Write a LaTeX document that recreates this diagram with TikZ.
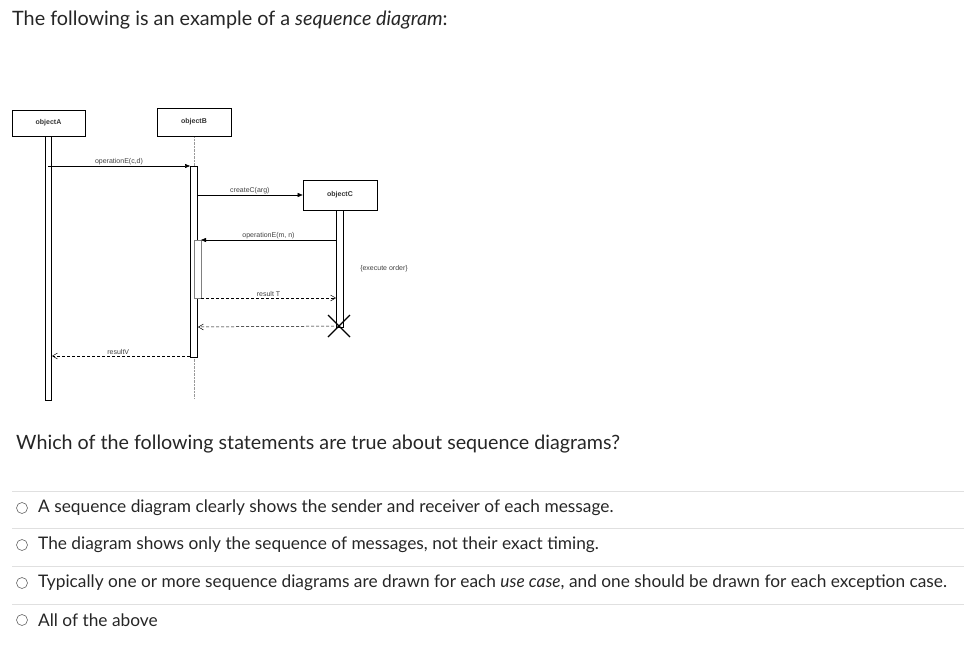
\documentclass[tikz,border=0pt]{standalone}
\usepackage{fontspec}
\setmainfont{Lato}
\newfontfamily\diag{Liberation Sans}
\usetikzlibrary{arrows.meta,calc}
\begin{document}
\begin{tikzpicture}[x=1pt,y=-1pt,
  obj/.style={draw,line width=0.6pt,fill=white,font=\diag\bfseries\fontsize{7}{8}\selectfont,text=black!80},
  act/.style={draw,line width=0.6pt,fill=white},
  lbl/.style={font=\diag\fontsize{7}{8}\selectfont,text=black!75,inner sep=1pt},
  msg/.style={line width=0.5pt,-{Triangle[length=5pt,width=4pt]}},
  ret/.style={line width=0.5pt,densely dashed,-{Straight Barb[length=5pt,width=6pt]}},
  body/.style={font=\fontsize{17.3}{20}\selectfont,text=black!85,anchor=west,inner sep=0pt},
  sep/.style={draw=black!12,line width=0.6pt}]
\useasboundingbox (0,0) rectangle (964,657);
\node[anchor=west,inner sep=0pt,font=\fontsize{19.8}{23}\selectfont,text=black!85] (h) at (12,20) {The following is an example of a \textit{sequence diagram}:};
% lifelines
\draw[densely dotted,black!40] (194,136) -- (194,398);
\node[act,minimum width=6pt,minimum height=264pt,inner sep=0pt] (aA) at (48,268) {};
\node[obj,minimum width=73pt,minimum height=26pt] (oA) at (48.5,123) {objectA};
\node[obj,minimum width=74pt,minimum height=28pt] (oB) at (194,122) {objectB};
\node[act,minimum width=7pt,minimum height=191pt,inner sep=0pt] (aB) at (193.5,261.5) {};
\node[draw=black!50,fill=white,line width=0.4pt,minimum width=7pt,minimum height=58pt,inner sep=0pt] (aB2) at (197.5,269) {};
\node[obj,minimum width=74pt,minimum height=30pt] (oC) at (340,195) {objectC};
\node[act,minimum width=7pt,minimum height=117pt,inner sep=0pt] (aC) at (339.5,268.5) {};
% X
\coordinate (x) at (339,326);
\draw[line width=1.2pt] ($(x)+(-11,-11)$) -- ($(x)+(11,11)$) ($(x)+(-11,11)$) -- ($(x)+(11,-11)$);
% messages
\coordinate (m1s) at (48,166); \coordinate (m1e) at (190,166);
\draw[msg] (m1s) -- node[lbl,above] {operationE(c,d)} (m1e);
\coordinate (m2s) at (197,195);
\draw[msg] (m2s) -- node[lbl,above] {createC(arg)} (oC.west |- m2s);
\coordinate (m3s) at (336,240); \coordinate (m3e) at (201,240);
\draw[msg] (m3s) -- node[lbl,above] {operationE(m, n)} (m3e);
\node[lbl] (eo) at (384,269) {\{execute order\}};
\coordinate (m4s) at (201,298); \coordinate (m4e) at (336,298);
\draw[ret] (m4s) -- node[lbl,above] {result T} (m4e);
\coordinate (m5e) at (198,327);
\draw[ret] (x) -- (m5e);
\coordinate (m6s) at (190,356); \coordinate (m6e) at (52,356);
\draw[ret] (m6s) -- node[lbl,above,pos=0.52] {resultV} (m6e);
% question
\node[anchor=west,inner sep=0pt,font=\fontsize{19.7}{23}\selectfont,text=black!85] (q) at (16,444) {Which of the following statements are true about sequence diagrams?};
\foreach \y in {491,528,566,604} \draw[sep] (12,\y) -- (964,\y);
\foreach \y/\t [count=\i] in {508/{A sequence diagram clearly shows the sender and receiver of each message.},
  545/{The diagram shows only the sequence of messages, not their exact timing.},
  583/{Typically one or more sequence diagrams are drawn for each \textit{use case}, and one should be drawn for each exception case.},
  620/{All of the above}} {
  \node[draw=black!60,circle,minimum size=11pt,inner sep=0pt,line width=0.6pt] (r\i) at (22,\y) {};
  \node[body] (t\i) at (38,\y) {\t};
}
\end{tikzpicture}
\end{document}
